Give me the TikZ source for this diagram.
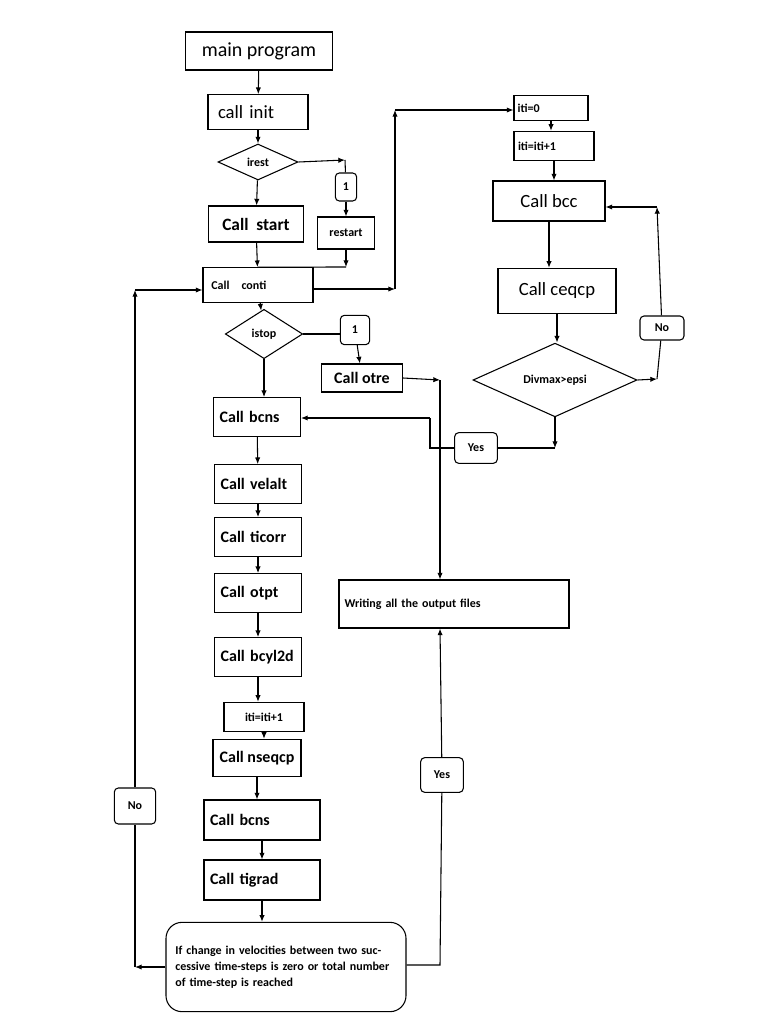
\documentclass[tikz,border=0pt]{standalone}
\usepackage{fontspec}
\setmainfont{Carlito}
\usetikzlibrary{shapes.geometric,arrows.meta}
\begin{document}
\begin{tikzpicture}[x=0.75pt,y=-0.75pt,
  box/.style={draw,thick,minimum width=#1*0.75pt,inner sep=1pt},
  rbox/.style={draw,thick,rounded corners=3pt,inner sep=1pt},
  dia/.style={draw,thick,diamond,aspect=2.2,inner sep=1pt},
  ar/.style={-{Latex[length=5pt,width=4pt]},thick},
  ln/.style={thick}]
\useasboundingbox (0,0) rectangle (768,1024);
\node[box=147,minimum height=28.5pt,font=\fontsize{15}{17}\selectfont] (main) at (259,51) {main program};
\node[box=100,minimum height=26pt,font=\fontsize{14}{16}\selectfont,text width=60pt] (init) at (258,112) {call init};
\node[draw,thick,diamond,minimum width=60pt,minimum height=27pt,inner sep=0pt,font=\fontsize{9}{11}\selectfont\bfseries] (irest) at (258,162) {irest};
\node[rbox,minimum width=16pt,minimum height=21pt,font=\fontsize{9}{11}\selectfont\bfseries] (one1) at (346,187) {1};
\node[box=57,minimum height=24pt,font=\fontsize{9}{11}\selectfont\bfseries] (restart) at (346,233) {restart};
\node[box=95,minimum height=27pt,font=\fontsize{13}{15}\selectfont\bfseries] (start) at (256,224) {Call\ \ start};
\node[box=110,minimum height=26pt,font=\fontsize{9}{11}\selectfont\bfseries,text width=70pt] (conti) at (258,285) {Call\quad conti};
\node[draw,thick,diamond,minimum width=58pt,minimum height=37pt,inner sep=0pt,font=\fontsize{9}{11}\selectfont\bfseries] (istop) at (264,334) {istop};
\node[rbox,minimum width=22pt,minimum height=22pt,font=\fontsize{9}{11}\selectfont\bfseries] (one2) at (355,330) {1};
\node[box=81,minimum height=21pt,font=\fontsize{12}{14}\selectfont\bfseries] (otre) at (362,378) {Call otre};
\node[box=87,minimum height=29pt,font=\fontsize{12}{14}\selectfont\bfseries,text width=56pt] (bcns) at (257,417) {Call bcns};
\node[box=87,minimum height=29pt,font=\fontsize{12}{14}\selectfont\bfseries,text width=56pt] (velalt) at (258,484) {Call velalt};
\node[box=87,minimum height=29pt,font=\fontsize{12}{14}\selectfont\bfseries,text width=56pt] (ticorr) at (258,537) {Call ticorr};
\node[box=87,minimum height=29pt,font=\fontsize{12}{14}\selectfont\bfseries,text width=56pt] (otpt) at (258,593) {Call otpt};
\node[box=87,minimum height=29pt,font=\fontsize{12}{14}\selectfont\bfseries,text width=56pt] (bcyl) at (258,657) {Call bcyl2d};
\node[box=80,minimum height=22pt,font=\fontsize{9}{11}\selectfont\bfseries] (itib) at (264,717) {iti=iti+1};
\node[box=88,minimum height=28pt,font=\fontsize{12}{14}\selectfont\bfseries] (nseq) at (257,758) {Call nseqcp};
\node[box=116,minimum height=30pt,font=\fontsize{12}{14}\selectfont\bfseries,text width=78pt] (bcns2) at (262,820) {Call bcns};
\node[box=116,minimum height=30pt,font=\fontsize{12}{14}\selectfont\bfseries,text width=78pt] (tig) at (262,880) {Call tigrad};
\node[draw,thick,rounded corners=12pt,minimum width=180pt,minimum height=67pt,font=\fontsize{9}{12}\selectfont\bfseries,text width=166pt,align=left] (cond) at (286,967) {If change in velocities between two successive time-steps is zero or total number of time-step is reached};
\node[box=230,minimum height=36pt,font=\fontsize{9}{11}\selectfont\bfseries,text width=164pt,align=left] (wr) at (454,604) {Writing all the output files\\[10pt]};
\node[rbox,minimum width=32pt,minimum height=26pt,font=\fontsize{9}{11}\selectfont\bfseries] (yes2) at (442,775) {Yes};
\node[rbox,minimum width=31pt,minimum height=27pt,font=\fontsize{9}{11}\selectfont\bfseries] (no1) at (135,806) {No};
\node[box=74,minimum height=19pt,font=\fontsize{9}{11}\selectfont\bfseries,text width=50pt] (iti0) at (551,108) {iti=0};
\node[box=80,minimum height=22pt,font=\fontsize{9}{11}\selectfont\bfseries,text width=54pt] (iti1) at (554,146) {iti=iti+1};
\node[box=112,minimum height=30pt,font=\fontsize{14}{16}\selectfont] (bcc) at (549,201) {Call bcc};
\node[box=118,minimum height=34pt,font=\fontsize{14}{16}\selectfont] (ceq) at (557,291) {Call ceqcp};
\node[draw,thick,diamond,minimum width=123pt,minimum height=52pt,inner sep=0pt,font=\fontsize{9}{11}\selectfont\bfseries] (div) at (555,380) {Divmax>epsi};
\node[rbox,minimum width=33pt,minimum height=18pt,font=\fontsize{9}{11}\selectfont\bfseries] (no2) at (662,328) {No};
\node[rbox,minimum width=32pt,minimum height=23pt,font=\fontsize{9}{11}\selectfont\bfseries] (yes1) at (476,448) {Yes};
\coordinate (a1) at (345,160);
\coordinate (a2) at (346,267);
\coordinate (a3) at (395,289);
\coordinate (a4) at (395,110);
\coordinate (a5) at (440,380);
\coordinate (a6) at (440,965);
\coordinate (a7) at (135,967);
\coordinate (a8) at (135,290);
\coordinate (a9) at (657,379);
\coordinate (a10) at (657,207);
\coordinate (a11) at (555,448);
\coordinate (a12) at (430,448);
\coordinate (a13) at (430,418);
\draw[ar] (main) -- (init);
\draw[ar] (init) -- (irest);
\draw[ar] (irest) -- (start);
\draw[ar] (irest.east) -- (a1);
\draw[ln] (a1) -- (one1);
\draw[ar] (one1) -- (restart);
\draw[ar] (restart) -- (a2);
\draw[ln] (a2) -- (conti.north);
\draw[ar] (start) -- (conti);
\draw[ar] (conti.east|-a3) -- (a3);
\draw[ar] (a3) -- (a4);
\draw[ar] (a4) -- (iti0.west|-a4);
\draw[ar] (conti) -- (istop);
\draw[ln] (istop.east) -- (one2.west|-istop.east);
\draw[ar] (one2) -- (otre);
\draw[ar] (istop) -- (istop.south|-bcns.north);
\draw[ar] (otre.east) -- (a5);
\draw[ar] (a5) -- (a5|-wr.north);
\draw[ar] (bcns) -- (velalt);
\draw[ar] (velalt) -- (ticorr);
\draw[ar] (ticorr) -- (otpt);
\draw[ar] (otpt) -- (bcyl);
\draw[ar] (bcyl) -- (bcyl.south|-itib.north);
\draw[ar] (itib) -- (itib.south|-nseq.north);
\draw[ar] (nseq) -- (nseq.south|-bcns2.north);
\draw[ar] (bcns2) -- (tig);
\draw[ar] (tig) -- (tig.south|-cond.north);
\draw[ln] (cond.east|-a6) -- (a6) -- (yes2);
\draw[ar] (yes2) -- (a6|-wr.south);
\draw[ar] (cond.west|-a7) -- (a7);
\draw[ln] (a7) -- (no1);
\draw[ar] (no1) -- (a8);
\draw[ar] (a8) -- (conti.west|-a8);
\draw[ar] (iti0) -- (iti0.south|-iti1.north);
\draw[ar] (iti1) -- (iti1.south|-bcc.north);
\draw[ar] (bcc) -- (bcc.south|-ceq.north);
\draw[ar] (ceq) -- (ceq.south|-div.north);
\draw[ar] (div.east) -- (a9);
\draw[ln] (a9) -- (no2);
\draw[ar] (no2) -- (a10);
\draw[ar] (a10) -- (bcc.east|-a10);
\draw[ar] (div.south) -- (a11);
\draw[ln] (a11) -- (yes1);
\draw[ln] (yes1) -- (a12) -- (a13);
\draw[ar] (a13) -- (bcns.east|-a13);
\end{tikzpicture}
\end{document}
